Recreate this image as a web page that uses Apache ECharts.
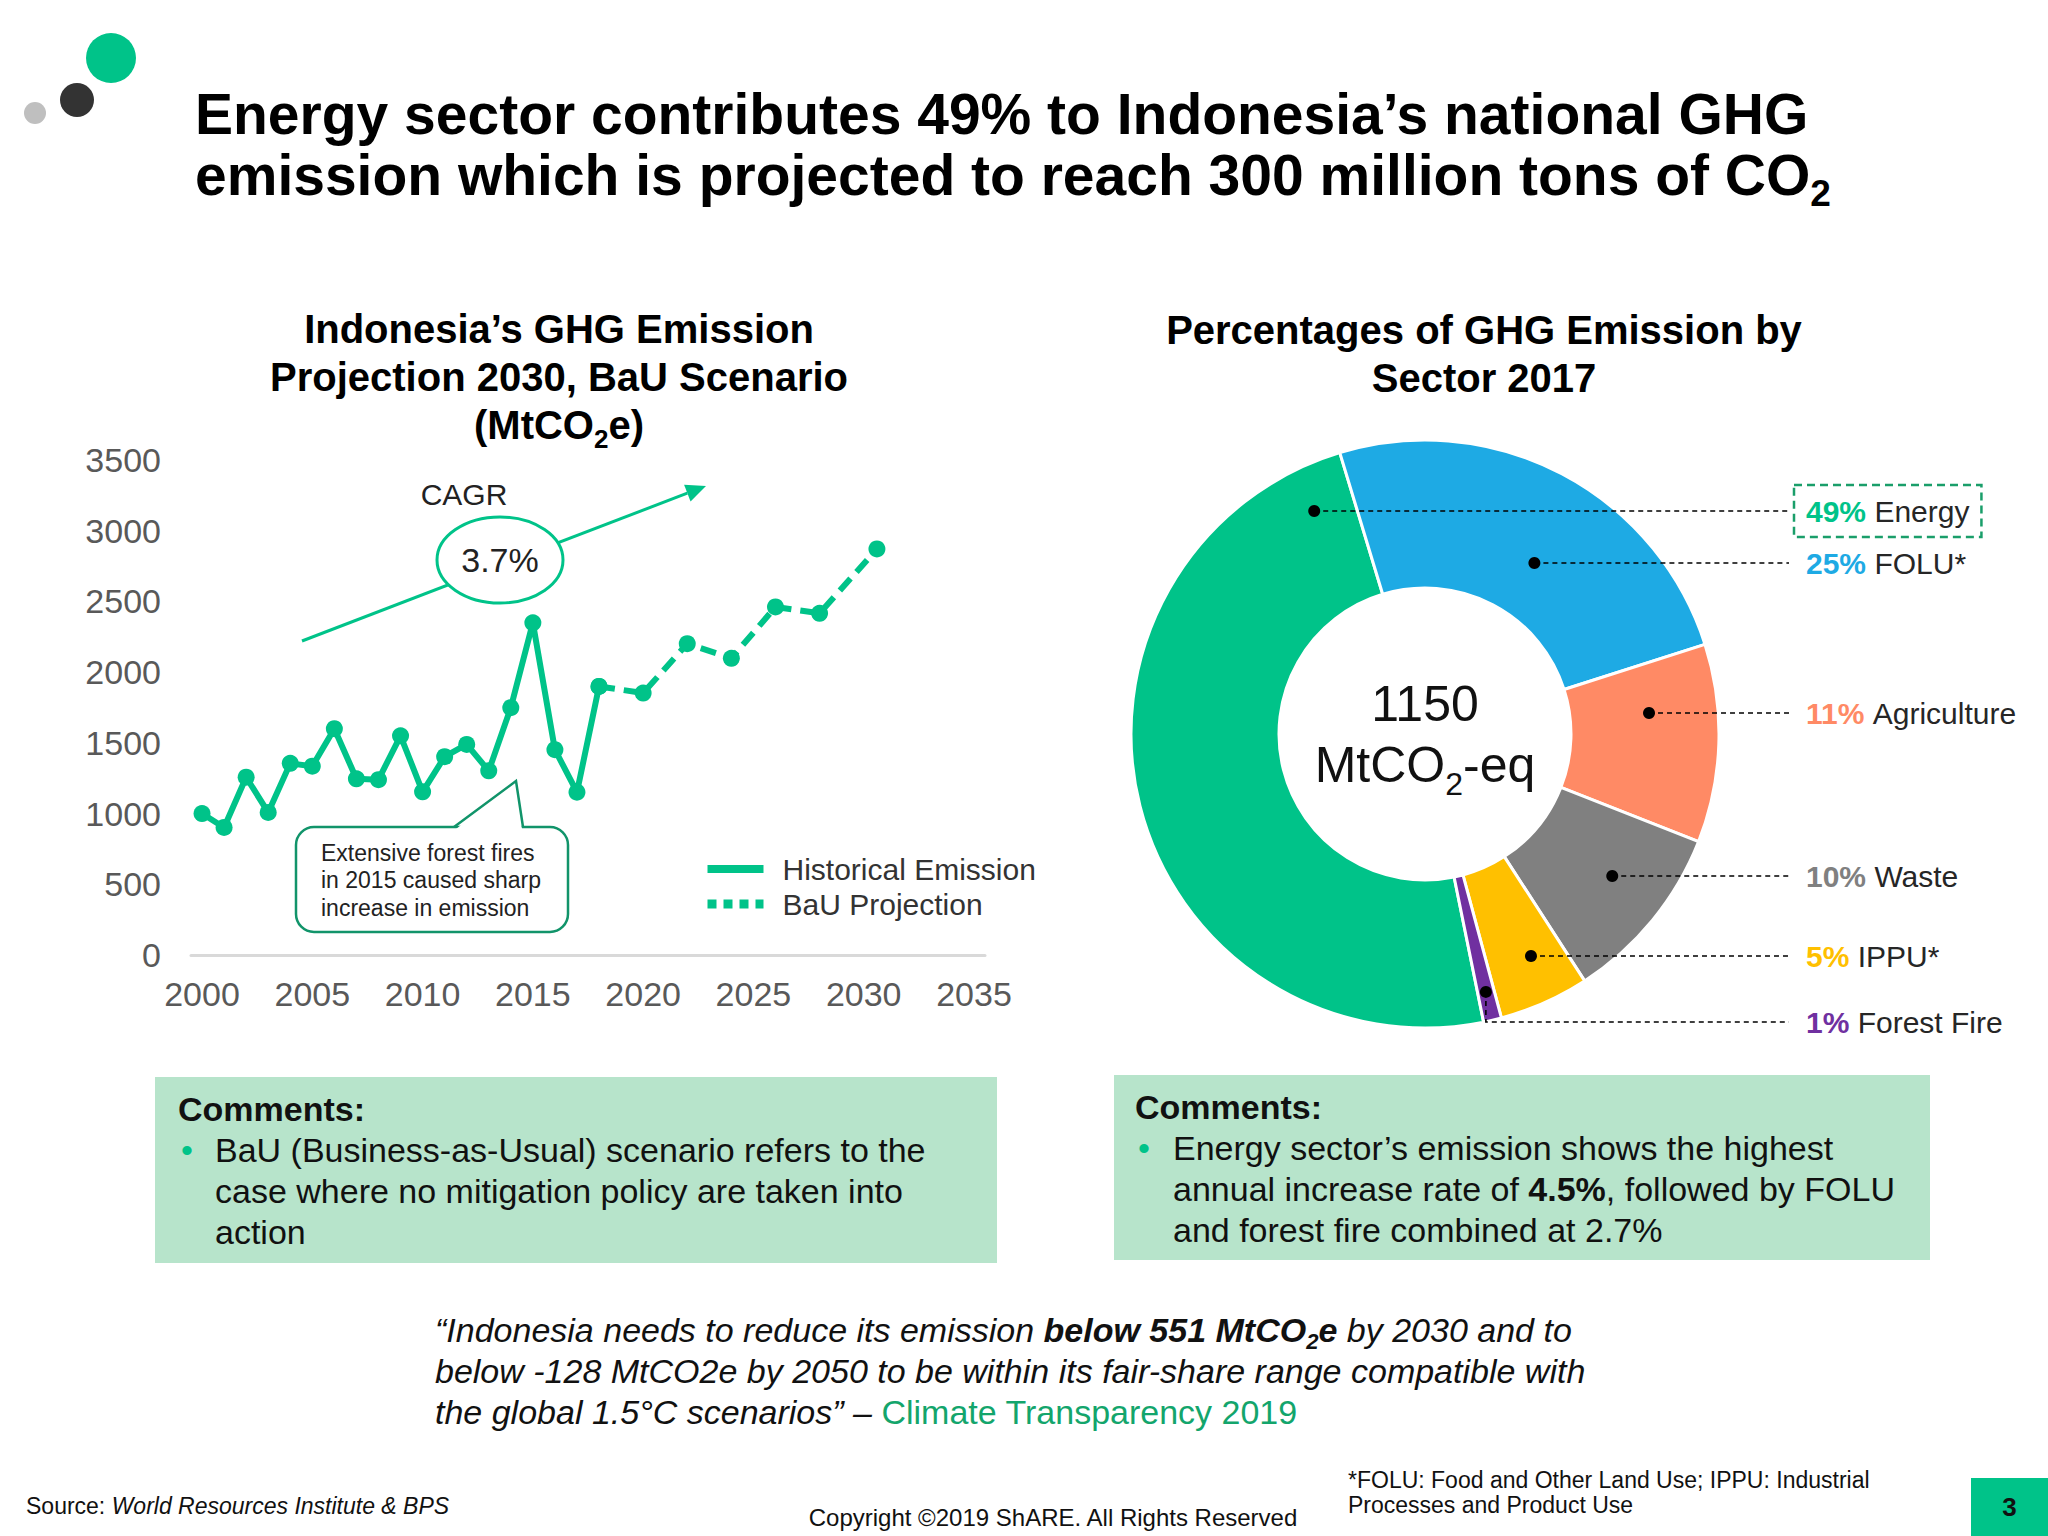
<!DOCTYPE html>
<html>
<head>
<meta charset="utf-8">
<script src="https://cdn.jsdelivr.net/npm/echarts@6/dist/echarts.min.js"></script>
<style>
  html, body { margin: 0; padding: 0; background: #fff; }
  #slide { position: relative; width: 2048px; height: 1536px; overflow: hidden;
           font-family: "Liberation Sans", Arial, sans-serif; color: #111; }
  #chart { position: absolute; left: 0; top: 0; width: 2048px; height: 1536px; }
  .abs { position: absolute; white-space: nowrap; }
  .dot { position: absolute; border-radius: 50%; }
  .sub { font-size: 0.65em; position: relative; top: 0.3em; line-height: 0; }
  .headline { left: 195px; top: 84px; font-size: 57px; font-weight: bold; line-height: 61px; color: #000; }
  .comments { position: absolute; background: #B7E4CB; font-size: 34px; line-height: 41px;
              box-sizing: border-box; padding-top: 12px; color: #111; }
  .comments .head { font-weight: bold; }
  .comments .item { position: relative; white-space: nowrap; }
  .comments .bullet { position: absolute; left: 3px; top: 0; color: #00C389; }
  .quote { left: 435px; top: 1310px; font-size: 34px; line-height: 41px; font-style: italic; color: #111; }
  .quote .src { font-style: normal; color: #13A56C; }
  .foot { font-size: 23px; line-height: 25px; color: #111; }
  .pagebox { left: 1971px; top: 1478px; width: 77px; height: 58px; background: #00C389;
             font-weight: bold; font-size: 26px; line-height: 58px; text-align: center; color: #111; }
</style>
</head>
<body>
<div id="slide">
  <div id="chart"></div>

  <div class="dot" style="left:86px;top:33px;width:50px;height:50px;background:#00C389;"></div>
  <div class="dot" style="left:60px;top:83px;width:34px;height:34px;background:#333;"></div>
  <div class="dot" style="left:24px;top:102px;width:22px;height:22px;background:#BFBFBF;"></div>

  <div class="abs headline">Energy sector contributes 49% to Indonesia’s national GHG<br>emission which is projected to reach 300 million tons of CO<span class="sub">2</span></div>

  <div class="comments" style="left:155px;top:1077px;width:842px;height:186px;padding-left:23px;">
    <div class="head">Comments:</div>
    <div class="item" style="padding-left:37px;"><span class="bullet">•</span>BaU (Business-as-Usual) scenario refers to the<br>case where no mitigation policy are taken into<br>action</div>
  </div>
  <div class="comments" style="left:1114px;top:1075px;width:816px;height:185px;padding-left:21px;">
    <div class="head">Comments:</div>
    <div class="item" style="padding-left:38px;"><span class="bullet">•</span>Energy sector’s emission shows the highest<br>annual increase rate of <b>4.5%</b>, followed by FOLU<br>and forest fire combined at 2.7%</div>
  </div>

  <div class="abs quote">“Indonesia needs to reduce its emission <b>below 551 MtCO<span class="sub">2</span>e</b> by 2030 and to<br>below -128 MtCO2e by 2050 to be within its fair-share range compatible with<br>the global 1.5°C scenarios” – <span class="src">Climate Transparency 2019</span></div>

  <div class="abs foot" style="left:26px;top:1494px;">Source: <i>World Resources Institute &amp; BPS</i></div>
  <div class="abs foot" style="left:753px;top:1505px;width:600px;text-align:center;font-size:24px;">Copyright ©2019 ShARE. All Rights Reserved</div>
  <div class="abs foot" style="left:1348px;top:1468px;">*FOLU: Food and Other Land Use; IPPU: Industrial<br>Processes and Product Use</div>
  <div class="abs pagebox">3</div>
</div>

<script>
// line chart data (MtCO2e)
const histYears = [2000, 2001, 2002, 2003, 2004, 2005, 2006, 2007, 2008, 2009,
                   2010, 2011, 2012, 2013, 2014, 2015, 2016, 2017, 2018];
const historical = [1000, 902, 1257, 1008, 1355, 1335, 1600, 1246, 1240, 1550,
                    1154, 1402, 1489, 1302, 1749, 2349, 1452, 1151, 1899];
const projYears = [2018, 2020, 2022, 2024, 2026, 2028, 2030.6];
const projection = [1899, 1852, 2201, 2098, 2461, 2416, 2871];
const xTicks = [2000, 2005, 2010, 2015, 2020, 2025, 2030, 2035];

// donut data (% of 2017 emission)
const sectors = ['Energy', 'FOLU*', 'Agriculture', 'Waste', 'IPPU*', 'Forest Fire'];
const shares = [49, 25, 11, 10, 5, 1];
const sectorColors = ['#00C389', '#1EAAE4', '#FF8A65', '#808080', '#FFC000', '#7030A0'];

const green = '#00C389';
const font = 'Liberation Sans';

// donut geometry + callout layout
const pieCenter = [1425, 734];
const pieStart = -78.5;
const calloutY = [511, 563, 713, 876, 956, 1022];
const dotRadius = [249, 203, 225, 235, 246, 265];
const labelTextX = 1806;
const lineEndX = 1789;

const total = shares.reduce((a, b) => a + b, 0);
function midAngle(i) {
  let acc = 0;
  for (let k = 0; k < i; k++) acc += shares[k];
  return (pieStart - (acc + shares[i] / 2) / total * 360) * Math.PI / 180;
}
function anchorPoint(i) {
  const a = midAngle(i), r = dotRadius[i];
  const dy = calloutY[i] - pieCenter[1];
  if (Math.abs(dy) < r) {
    const side = Math.cos(a) >= 0 ? 1 : -1;
    return [pieCenter[0] + side * Math.sqrt(r * r - dy * dy), calloutY[i]];
  }
  return [pieCenter[0] + r * Math.cos(a), pieCenter[1] - r * Math.sin(a)];
}

const rich = { n: { fontSize: 30, color: '#262626', fontFamily: font } };
sectorColors.forEach((c, i) => {
  rich['p' + i] = { fontSize: 30, fontWeight: 'bold', color: c, fontFamily: font };
});

// CAGR arrow
const arrowFrom = [302, 641], arrowTo = [706, 486];
const ax = arrowTo[0] - arrowFrom[0], ay = arrowTo[1] - arrowFrom[1];
const alen = Math.sqrt(ax * ax + ay * ay);
const ux = ax / alen, uy = ay / alen;
const headBase = [arrowTo[0] - 20 * ux, arrowTo[1] - 20 * uy];

// leader lines and dots for the donut callouts
const leaders = [];
shares.forEach((v, i) => {
  const p = anchorPoint(i);
  leaders.push({ type: 'polyline', z: 100,
    shape: { points: [p, [p[0], calloutY[i]], [lineEndX, calloutY[i]]] },
    style: { stroke: '#000', lineWidth: 1.6, lineDash: [5, 4], fill: null } });
  leaders.push({ type: 'circle', z: 101, shape: { cx: p[0], cy: p[1], r: 6 }, style: { fill: '#000' } });
});

const chart = echarts.init(document.getElementById('chart'), null, { renderer: 'svg' });
chart.setOption({
  animation: false,
  textStyle: { fontFamily: font },
  title: [
    {
      text: 'Indonesia’s GHG Emission\nProjection 2030, BaU Scenario\n(MtCO{s|2}e)',
      left: 559, top: 305, padding: 0, textAlign: 'center',
      textStyle: {
        fontSize: 40, fontWeight: 'bold', color: '#000', lineHeight: 48, fontFamily: font,
        rich: { s: { fontSize: 26, fontWeight: 'bold', color: '#000', fontFamily: font,
                     verticalAlign: 'bottom', padding: [0, 0, -3, 0] } }
      }
    },
    {
      text: 'Percentages of GHG Emission by\nSector 2017',
      left: 1484, top: 306, padding: 0, textAlign: 'center',
      textStyle: { fontSize: 40, fontWeight: 'bold', color: '#000', lineHeight: 48, fontFamily: font }
    },
    {
      text: '1150\nMtCO{s|2}-eq',
      left: pieCenter[0], top: 673, padding: 0, textAlign: 'center',
      textStyle: {
        fontSize: 50, fontWeight: 'normal', color: '#111', lineHeight: 61, fontFamily: font,
        rich: { s: { fontSize: 32, color: '#111', fontFamily: font,
                     verticalAlign: 'bottom', padding: [0, 0, -5, 0] } }
      }
    }
  ],
  grid: { left: 191, right: 1063, top: 460, bottom: 581, outerBoundsMode: 'none' },
  xAxis: {
    type: 'value', min: 1999.5, max: 2035.5,
    axisLine: { lineStyle: { color: '#D9D9D9', width: 3 } },
    axisTick: { show: false },
    splitLine: { show: false },
    axisLabel: { customValues: xTicks, fontSize: 34, color: '#595959', margin: 22,
                 formatter: v => String(v) }
  },
  yAxis: {
    type: 'value', min: 0, max: 3500, interval: 500,
    axisLine: { show: false }, axisTick: { show: false }, splitLine: { show: false },
    axisLabel: { fontSize: 34, color: '#595959', margin: 30, formatter: v => String(v) }
  },
  legend: {
    orient: 'vertical', left: 703, top: 854, padding: 0, itemWidth: 56, itemHeight: 10, itemGap: 5,
    selectedMode: false,
    textStyle: { fontSize: 30, color: '#333', lineHeight: 30, padding: [0, 0, 0, 14] },
    data: [
      { name: 'Historical Emission', itemStyle: { opacity: 0 }, lineStyle: { width: 8, type: 'solid' } },
      { name: 'BaU Projection', itemStyle: { opacity: 0 }, lineStyle: { width: 9, type: [9, 7] } }
    ]
  },
  series: [
    {
      name: 'Historical Emission', type: 'line', z: 3,
      data: histYears.map((y, i) => [y, historical[i]]),
      symbol: 'circle', symbolSize: 17,
      lineStyle: { color: green, width: 6 },
      itemStyle: { color: green }
    },
    {
      name: 'BaU Projection', type: 'line', z: 3,
      data: projYears.map((y, i) => [y, projection[i]]),
      symbol: 'circle', symbolSize: 17,
      lineStyle: { color: green, width: 6, type: [16, 9] },
      itemStyle: { color: green }
    },
    {
      name: 'Sector 2017', type: 'pie',
      center: pieCenter, radius: [146, 294], startAngle: pieStart, clockwise: true,
      avoidLabelOverlap: false,
      emphasis: { disabled: true },
      itemStyle: { borderColor: '#fff', borderWidth: 3 },
      label: {
        show: true, position: 'outside',
        formatter: p => '{p' + p.dataIndex + '|' + p.value + '%} {n|' + p.name + '}',
        fontSize: 30, color: '#262626', rich: rich
      },
      labelLine: { show: false },
      labelLayout: p => {
        const pad = p.dataIndex === 0 ? 12 : 0;
        return { x: labelTextX - pad, y: calloutY[p.dataIndex], align: 'left', verticalAlign: 'middle' };
      },
      data: sectors.map((s, i) => {
        const item = { name: s, value: shares[i], itemStyle: { color: sectorColors[i] } };
        if (i === 0) {
          item.label = { borderColor: '#1A9E6A', borderWidth: 2.5, borderType: [8, 5],
                         padding: [11, 12, 11, 12] };
        }
        return item;
      })
    }
  ],
  graphic: [
    { type: 'line', z: 100, shape: { x1: arrowFrom[0], y1: arrowFrom[1], x2: headBase[0], y2: headBase[1] },
      style: { stroke: green, lineWidth: 3 } },
    { type: 'polygon', z: 100,
      shape: { points: [arrowTo, [headBase[0] + 9 * uy, headBase[1] - 9 * ux], [headBase[0] - 9 * uy, headBase[1] + 9 * ux]] },
      style: { fill: green } },
    { type: 'ellipse', z: 101, shape: { cx: 500, cy: 560, rx: 63, ry: 43 },
      style: { fill: '#fff', stroke: green, lineWidth: 3 } },
    { type: 'text', z: 102, x: 500, y: 560,
      style: { text: '3.7%', font: '34px "Liberation Sans"', fill: '#222', textAlign: 'center', textVerticalAlign: 'middle' } },
    { type: 'text', z: 102, x: 464, y: 494,
      style: { text: 'CAGR', font: '30px "Liberation Sans"', fill: '#222', textAlign: 'center', textVerticalAlign: 'middle' } },
    // callout box with pointer towards the 2015 spike
    { type: 'rect', z: 100, shape: { x: 296, y: 827, width: 272, height: 105, r: 18 },
      style: { fill: '#fff', stroke: '#11946A', lineWidth: 2.5 } },
    { type: 'polygon', z: 101, shape: { points: [[456, 829], [516, 783], [522, 829]] },
      style: { fill: '#fff' } },
    { type: 'polyline', z: 101, shape: { points: [[454, 827], [516, 781], [523, 827]] },
      style: { stroke: '#11946A', lineWidth: 2.5, fill: null } },
    { type: 'text', z: 102, x: 321, y: 880,
      style: { text: 'Extensive forest fires\nin 2015 caused sharp\nincrease in emission', font: '23px "Liberation Sans"',
               lineHeight: 27.5, fill: '#222', textAlign: 'left', textVerticalAlign: 'middle' } }
  ].concat(leaders)
});
</script>
</body>
</html>
